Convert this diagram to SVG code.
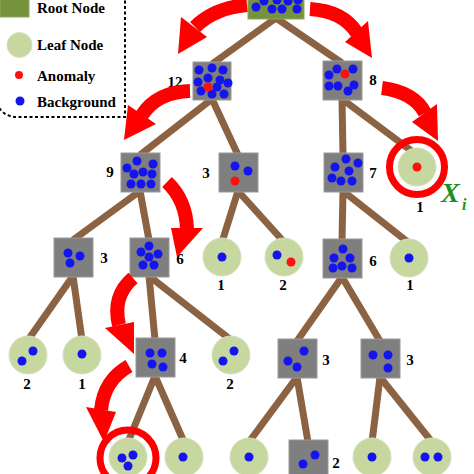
<svg xmlns="http://www.w3.org/2000/svg" width="474" height="474" viewBox="0 0 474 474">
<defs>
<style>
.e{stroke:#8b6242;stroke-width:7;fill:none;stroke-linecap:butt}
.sq{fill:#7f7f7f;stroke:#9a9a9a;stroke-width:1}
.rt{fill:#76923c;stroke:#8fa85a;stroke-width:1}
.lf{fill:#c6d8a0;stroke:#d4e0bc;stroke-width:1}
.b{fill:#1414f0}
.r{fill:#ff1010}
.t{font-family:"Liberation Serif","Times New Roman",serif;font-weight:bold;font-size:15px;fill:#000;text-anchor:middle}
.lg{font-family:"Liberation Serif","Times New Roman",serif;font-weight:bold;font-size:15px;fill:#000}
.ab{fill:none;stroke:#ff0000;stroke-width:14}
.ah{fill:#ff0000}
.ring{fill:none;stroke:#ff0000;stroke-width:7}
</style>
</defs>
<rect width="474" height="474" fill="#fff"/>

<g id="legend">
<path d="M125,-5 L125,117 L16,117 A20,20 0 0 1 -4,97 L-4,-5" fill="none" stroke="#000" stroke-width="2" stroke-dasharray="3,2.5"/>
<rect class="rt" x="0" y="-15" width="29" height="32"/>
<text class="lg" x="37" y="13">Root Node</text>
<circle class="lf" cx="19.5" cy="45" r="12.5"/>
<text class="lg" x="37" y="49.5">Leaf Node</text>
<circle class="r" cx="19" cy="75" r="4"/>
<text class="lg" x="37" y="81">Anomaly</text>
<circle class="b" cx="20" cy="101" r="4.5"/>
<text class="lg" x="37" y="107">Background</text>
</g>

<g id="connectors">
<line class="e" x1="276" y1="18" x2="212" y2="64"/>
<line class="e" x1="276" y1="18" x2="342" y2="63"/>
<line class="e" x1="212" y1="99" x2="140" y2="155"/>
<line class="e" x1="212" y1="99" x2="238" y2="155"/>
<line class="e" x1="342" y1="99" x2="343" y2="155"/>
<line class="e" x1="342" y1="99" x2="413" y2="152"/>
<line class="e" x1="140" y1="191" x2="73" y2="240"/>
<line class="e" x1="140" y1="191" x2="149" y2="240"/>
<line class="e" x1="238" y1="191" x2="222" y2="242"/>
<line class="e" x1="238" y1="191" x2="284" y2="242"/>
<line class="e" x1="343" y1="191" x2="342" y2="241"/>
<line class="e" x1="343" y1="191" x2="409" y2="243"/>
<line class="e" x1="73" y1="276" x2="28" y2="340"/>
<line class="e" x1="73" y1="276" x2="82" y2="340"/>
<line class="e" x1="149" y1="276" x2="155" y2="340"/>
<line class="e" x1="149" y1="276" x2="231" y2="340"/>
<line class="e" x1="342" y1="277" x2="297" y2="341"/>
<line class="e" x1="342" y1="277" x2="380" y2="341"/>
<line class="e" x1="155" y1="376" x2="128" y2="442"/>
<line class="e" x1="155" y1="376" x2="184" y2="442"/>
<line class="e" x1="297" y1="377" x2="249" y2="442"/>
<line class="e" x1="297" y1="377" x2="308" y2="442"/>
<line class="e" x1="380" y1="377" x2="372" y2="442"/>
<line class="e" x1="380" y1="377" x2="432" y2="442"/>
</g>

<g id="root">
<rect class="rt" x="248" y="-20" width="56" height="39"/>
<circle class="b" cx="256" cy="7" r="4.5"/><circle class="b" cx="264" cy="1" r="4.5"/>
<circle class="b" cx="272" cy="9" r="4.5"/><circle class="b" cx="282" cy="9" r="4.5"/>
<circle class="b" cx="288" cy="1" r="4.5"/><circle class="b" cx="297" cy="9" r="4.5"/>
<circle class="b" cx="298" cy="0" r="4.5"/><circle class="b" cx="277" cy="0" r="4.5"/>
</g>

<g id="n12">
<rect class="sq" x="193" y="62" width="38" height="38"/>
<circle class="b" cx="199" cy="70" r="4.5"/><circle class="b" cx="212" cy="68" r="4.5"/><circle class="b" cx="223" cy="70" r="4.5"/>
<circle class="b" cx="198" cy="82" r="4.5"/><circle class="b" cx="208" cy="78" r="4.5"/><circle class="b" cx="220" cy="80" r="4.5"/>
<circle class="b" cx="228" cy="83" r="4.5"/><circle class="b" cx="201" cy="91" r="4.5"/><circle class="b" cx="212" cy="94" r="4.5"/>
<circle class="b" cx="224" cy="94" r="4.5"/><circle class="b" cx="217" cy="87" r="4.5"/>
<circle class="r" cx="208" cy="87" r="4.5"/>
<text class="t" x="175" y="87">12</text>
</g>

<g id="n8">
<rect class="sq" x="323" y="61" width="39" height="39"/>
<circle class="b" cx="329" cy="75" r="4.5"/><circle class="b" cx="337" cy="69" r="4.5"/><circle class="b" cx="353" cy="69" r="4.5"/>
<circle class="b" cx="329" cy="86" r="4.5"/><circle class="b" cx="338" cy="86" r="4.5"/><circle class="b" cx="348" cy="91" r="4.5"/>
<circle class="b" cx="354" cy="85" r="4.5"/>
<circle class="r" cx="345" cy="74" r="4.5"/>
<text class="t" x="373" y="85">8</text>
</g>

<g id="n9">
<rect class="sq" x="121" y="153" width="39" height="39"/>
<circle class="b" cx="137" cy="161" r="4.5"/><circle class="b" cx="153" cy="164" r="4.5"/><circle class="b" cx="127" cy="168" r="4.5"/>
<circle class="b" cx="134" cy="174" r="4.5"/><circle class="b" cx="143" cy="172" r="4.5"/><circle class="b" cx="152" cy="174" r="4.5"/>
<circle class="b" cx="131" cy="184" r="4.5"/><circle class="b" cx="141" cy="184" r="4.5"/><circle class="b" cx="151" cy="184" r="4.5"/>
<text class="t" x="110" y="177">9</text>
</g>

<g id="n3a">
<rect class="sq" x="219" y="153" width="39" height="39"/>
<circle class="b" cx="235" cy="166" r="4.5"/><circle class="b" cx="248" cy="171" r="4.5"/>
<circle class="r" cx="235" cy="181" r="4.5"/>
<text class="t" x="206" y="178">3</text>
</g>

<g id="n7">
<rect class="sq" x="324" y="153" width="39" height="39"/>
<circle class="b" cx="346" cy="159" r="4.5"/><circle class="b" cx="358" cy="163" r="4.5"/><circle class="b" cx="335" cy="167" r="4.5"/>
<circle class="b" cx="349" cy="171" r="4.5"/><circle class="b" cx="332" cy="178" r="4.5"/><circle class="b" cx="341" cy="181" r="4.5"/>
<circle class="b" cx="352" cy="181" r="4.5"/>
<text class="t" x="373" y="178">7</text>
</g>

<g id="leafXi">
<circle class="lf" cx="417" cy="167" r="19"/>
<circle class="r" cx="417" cy="167" r="4.5"/>
<circle class="ring" cx="417" cy="167" r="27.5"/>
<text class="t" x="420" y="212">1</text>
<text x="441" y="202" font-family="'Liberation Serif','Times New Roman',serif" font-weight="bold" font-style="italic" font-size="28" fill="#1e8f1e">X</text>
<text x="462" y="210" font-family="'Liberation Serif','Times New Roman',serif" font-weight="bold" font-style="italic" font-size="16" fill="#1e8f1e">i</text>
</g>

<g id="n3b">
<rect class="sq" x="54" y="238" width="39" height="39"/>
<circle class="b" cx="68" cy="253" r="4.5"/><circle class="b" cx="80" cy="256" r="4.5"/><circle class="b" cx="70" cy="263" r="4.5"/>
<text class="t" x="104" y="263">3</text>
</g>

<g id="n6a">
<rect class="sq" x="130" y="238" width="39" height="39"/>
<circle class="b" cx="149" cy="246" r="4.5"/><circle class="b" cx="141" cy="252" r="4.5"/><circle class="b" cx="149" cy="257" r="4.5"/>
<circle class="b" cx="158" cy="254" r="4.5"/><circle class="b" cx="143" cy="265" r="4.5"/><circle class="b" cx="154" cy="265" r="4.5"/>
<text class="t" x="180" y="264">6</text>
</g>

<g id="leafA">
<circle class="lf" cx="222" cy="257" r="19"/>
<circle class="b" cx="222" cy="257" r="4.5"/>
<text class="t" x="221" y="290">1</text>
</g>

<g id="leafB">
<circle class="lf" cx="284" cy="257" r="19"/>
<circle class="b" cx="277" cy="255" r="4.5"/><circle class="r" cx="291" cy="262" r="4.5"/>
<text class="t" x="283" y="290">2</text>
</g>

<g id="n6b">
<rect class="sq" x="323" y="239" width="39" height="39"/>
<circle class="b" cx="343" cy="249" r="4.5"/><circle class="b" cx="334" cy="258" r="4.5"/><circle class="b" cx="350" cy="258" r="4.5"/>
<circle class="b" cx="333" cy="268" r="4.5"/><circle class="b" cx="342" cy="266" r="4.5"/><circle class="b" cx="352" cy="268" r="4.5"/>
<text class="t" x="373" y="266">6</text>
</g>

<g id="leafC">
<circle class="lf" cx="409" cy="258" r="19"/>
<circle class="b" cx="409" cy="258" r="4.5"/>
<text class="t" x="410" y="290">1</text>
</g>

<g id="leafD">
<circle class="lf" cx="28" cy="355" r="19"/>
<circle class="b" cx="33" cy="351" r="4.5"/><circle class="b" cx="22" cy="361" r="4.5"/>
<text class="t" x="27" y="389">2</text>
</g>

<g id="leafE">
<circle class="lf" cx="82" cy="355" r="19"/>
<circle class="b" cx="82" cy="354" r="4.5"/>
<text class="t" x="82" y="389">1</text>
</g>

<g id="n4">
<rect class="sq" x="136" y="338" width="39" height="39"/>
<circle class="b" cx="150" cy="353" r="4.5"/><circle class="b" cx="162" cy="353" r="4.5"/>
<circle class="b" cx="152" cy="364" r="4.5"/><circle class="b" cx="163" cy="367" r="4.5"/>
<text class="t" x="183" y="363">4</text>
</g>

<g id="leafF">
<circle class="lf" cx="231" cy="355" r="19"/>
<circle class="b" cx="234" cy="351" r="4.5"/><circle class="b" cx="223" cy="361" r="4.5"/>
<text class="t" x="230" y="389">2</text>
</g>

<g id="n3c">
<rect class="sq" x="278" y="339" width="39" height="39"/>
<circle class="b" cx="304" cy="351" r="4.5"/><circle class="b" cx="288" cy="361" r="4.5"/><circle class="b" cx="297" cy="367" r="4.5"/>
<text class="t" x="326" y="365">3</text>
</g>

<g id="n3d">
<rect class="sq" x="361" y="339" width="39" height="39"/>
<circle class="b" cx="373" cy="355" r="4.5"/><circle class="b" cx="388" cy="355" r="4.5"/><circle class="b" cx="388" cy="368" r="4.5"/>
<text class="t" x="410" y="365">3</text>
</g>

<g id="leafG">
<circle class="lf" cx="128" cy="457" r="19"/>
<circle class="b" cx="122" cy="458" r="4.5"/><circle class="b" cx="133" cy="455" r="4.5"/><circle class="b" cx="128" cy="466" r="4.5"/>
<circle class="ring" cx="128" cy="458" r="28"/>
</g>

<g id="leafH">
<circle class="lf" cx="184" cy="457" r="19"/>
<circle class="b" cx="183" cy="457" r="4.5"/>
</g>

<g id="leafI">
<circle class="lf" cx="249" cy="457" r="19"/>
<circle class="b" cx="249" cy="457" r="4.5"/>
</g>

<g id="n2">
<rect class="sq" x="289" y="440" width="39" height="39"/>
<circle class="b" cx="315" cy="455" r="4.5"/><circle class="b" cx="303" cy="464" r="4.5"/>
<text class="t" x="336" y="468">2</text>
</g>

<g id="leafJ">
<circle class="lf" cx="372" cy="457" r="19"/>
<circle class="b" cx="372" cy="457" r="4.5"/>
</g>

<g id="leafK">
<circle class="lf" cx="432" cy="457" r="19"/>
<circle class="b" cx="425" cy="457" r="4.5"/><circle class="b" cx="438" cy="457" r="4.5"/>
</g>

<g id="arrows">
<path class="ab" d="M247,5 Q214,8 195,27"/>
<polygon class="ah" points="181,17 207,37 178,54"/>
<path class="ab" d="M310,9 Q343,11 357,33"/>
<polygon class="ah" points="345,42 368,21 372,58"/>
<path class="ab" d="M190,91 Q157,92 142,115"/>
<polygon class="ah" points="128,105 156,124 124,140"/>
<path class="ab" d="M382,88 Q414,92 425,113"/>
<polygon class="ah" points="412,122 437,104 438,141"/>
<path class="ab" d="M167,182 Q186,200 187,229"/>
<polygon class="ah" points="171,228 203,228 177,257"/>
<path class="ab" d="M133,278 Q112,296 119,325"/>
<polygon class="ah" points="105,328 134,322 134,354"/>
<path class="ab" d="M129,366 Q104,380 101,410"/>
<polygon class="ah" points="86,407 116,412 104,442"/>
</g>
</svg>
